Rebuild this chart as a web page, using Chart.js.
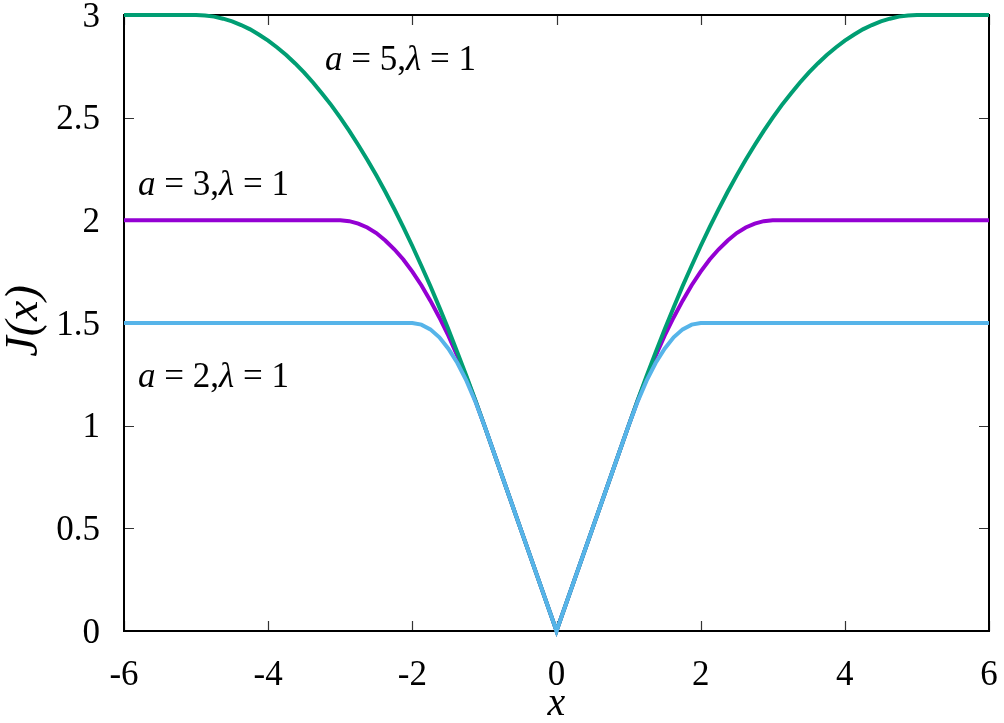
<!DOCTYPE html>
<html><head><meta charset="utf-8">
<script src="https://cdn.jsdelivr.net/npm/chart.js@4.4.1/dist/chart.umd.min.js"></script>
<style>
html,body{margin:0;padding:0;background:#fff;}
#wrap{position:relative;width:1004px;height:723px;overflow:hidden;}
#c{position:absolute;left:0;top:0;}
#ov{position:absolute;left:0;top:0;width:1004px;height:723px;pointer-events:none;}
#ov div{position:absolute;font-family:'Liberation Serif', serif;color:#000;white-space:pre;}
</style>
</head><body>
<div id="wrap"><canvas id="c" width="1004" height="723"></canvas><div id="ov"></div></div>
<script>
const xValues = [-6,-5.75,-5.5,-5.25,-5,-4.875,-4.75,-4.625,-4.5,-4.375,-4.25,-4.125,-4,-3.875,-3.75,-3.625,-3.5,-3.375,-3.25,-3.125,-3,-2.875,-2.75,-2.625,-2.5,-2.375,-2.25,-2.125,-2,-1.875,-1.75,-1.625,-1.5,-1.375,-1.25,-1.125,-1,-0.75,-0.5,-0.25,
  0,
  0.25,0.5,0.75,1,1.125,1.25,1.375,1.5,1.625,1.75,1.875,2,2.125,2.25,2.375,2.5,2.625,2.75,2.875,3,3.125,3.25,3.375,3.5,3.625,3.75,3.875,4,4.125,4.25,4.375,4.5,4.625,4.75,4.875,5,5.25,5.5,5.75,6];
const jA5 = [3,3,3,3,3,2.998,2.992,2.982,2.969,2.951,2.930,2.904,2.875,2.842,2.805,2.764,2.719,2.670,2.617,2.561,2.5,2.436,2.367,2.295,2.219,2.139,2.055,1.967,1.875,1.779,1.680,1.576,1.469,1.357,1.242,1.123,1,0.75,0.5,0.25,
  0,
  0.25,0.5,0.75,1,1.123,1.242,1.357,1.469,1.576,1.680,1.779,1.875,1.967,2.055,2.139,2.219,2.295,2.367,2.436,2.5,2.561,2.617,2.670,2.719,2.764,2.805,2.842,2.875,2.904,2.930,2.951,2.969,2.982,2.992,2.998,3,3,3,3,3];
const jA3 = [2,2,2,2,2,2,2,2,2,2,2,2,2,2,2,2,2,2,2,2,2,1.996,1.984,1.965,1.938,1.902,1.859,1.809,1.75,1.684,1.609,1.527,1.438,1.340,1.234,1.121,1,0.75,0.5,0.25,
  0,
  0.25,0.5,0.75,1,1.121,1.234,1.340,1.438,1.527,1.609,1.684,1.75,1.809,1.859,1.902,1.938,1.965,1.984,1.996,2,2,2,2,2,2,2,2,2,2,2,2,2,2,2,2,2,2,2,2,2];
const jA2 = [1.5,1.5,1.5,1.5,1.5,1.5,1.5,1.5,1.5,1.5,1.5,1.5,1.5,1.5,1.5,1.5,1.5,1.5,1.5,1.5,1.5,1.5,1.5,1.5,1.5,1.5,1.5,1.5,1.5,1.492,1.469,1.430,1.375,1.305,1.219,1.117,1,0.75,0.5,0.25,
  0,
  0.25,0.5,0.75,1,1.117,1.219,1.305,1.375,1.430,1.469,1.492,1.5,1.5,1.5,1.5,1.5,1.5,1.5,1.5,1.5,1.5,1.5,1.5,1.5,1.5,1.5,1.5,1.5,1.5,1.5,1.5,1.5,1.5,1.5,1.5,1.5,1.5,1.5,1.5,1.5];
const xTickValues = [-6,-4,-2,0,2,4,6];
const xTickLabels = ['-6','-4','-2','0','2','4','6'];
const yTickValues = [0,0.5,1,1.5,2,2.5,3];
const yTickLabels = ['0','0.5','1','1.5','2','2.5','3'];
const xTitle = 'x';
const yTitle = 'J(x)';
const aValues = ['5','3','2'];
const lambdaValues = ['1','1','1'];
const labelAnchorX = [-3.21,-5.806,-5.806];
const labelAnchorY = [2.729,2.123,1.188];

const TICK_SIZE = 35, LABEL_SIZE = 35, XT_SIZE = 40, YT_SIZE = 46;
const ov = document.getElementById('ov');

function addText(html, css) {
  const d = document.createElement('div');
  d.innerHTML = html;
  Object.assign(d.style, css);
  ov.appendChild(d);
  return d;
}

const frame = {
  id: 'frame',
  beforeDatasetsDraw(chart) {
    const {ctx, chartArea: a, scales} = chart;
    ctx.save();
    ctx.strokeStyle = '#333';
    ctx.lineWidth = 1.2;
    ctx.beginPath();
    xTickValues.forEach(v => {
      const px = Math.round(scales.x.getPixelForValue(v)) + 0.5;
      ctx.moveTo(px, a.bottom); ctx.lineTo(px, a.bottom - 10);
      ctx.moveTo(px, a.top); ctx.lineTo(px, a.top + 10);
    });
    yTickValues.forEach(v => {
      const py = Math.round(scales.y.getPixelForValue(v)) + 0.5;
      ctx.moveTo(a.left, py); ctx.lineTo(a.left + 10, py);
      ctx.moveTo(a.right, py); ctx.lineTo(a.right - 10, py);
    });
    ctx.stroke();
    ctx.strokeStyle = '#000';
    ctx.lineWidth = 2;
    ctx.strokeRect(a.left, a.top, a.right - a.left, a.bottom - a.top);
    ctx.restore();
  },
  afterRender(chart) {
    if (ov.childElementCount) return;
    const {chartArea: a, scales} = chart;
    // y tick labels, right-aligned 24px left of the axis, centred on the tick
    yTickValues.forEach((v, i) => {
      addText(yTickLabels[i], {
        right: (chart.width - (a.left - 24)) + 'px',
        top: (scales.y.getPixelForValue(v) - TICK_SIZE / 2) + 'px',
        fontSize: TICK_SIZE + 'px', lineHeight: TICK_SIZE + 'px'
      });
    });
    // x tick labels, centred under the tick
    xTickValues.forEach((v, i) => {
      addText(xTickLabels[i], {
        left: scales.x.getPixelForValue(v) + 'px',
        top: (a.bottom + 42 - TICK_SIZE / 2) + 'px',
        transform: 'translateX(-50%)',
        fontSize: TICK_SIZE + 'px', lineHeight: TICK_SIZE + 'px'
      });
    });
    // axis titles
    addText('<i>' + xTitle + '</i>', {
      left: ((a.left + a.right) / 2) + 'px',
      top: (702 - XT_SIZE / 2) + 'px',
      transform: 'translateX(-50%)',
      fontSize: XT_SIZE + 'px', lineHeight: XT_SIZE + 'px'
    });
    addText('<i>' + yTitle + '</i>', {
      left: '22px',
      top: ((a.top + a.bottom) / 2 - 2) + 'px',
      transform: 'translate(-50%,-50%) rotate(-90deg)',
      fontSize: YT_SIZE + 'px', lineHeight: YT_SIZE + 'px'
    });
    // curve labels, anchored at their baseline
    aValues.forEach((av, i) => {
      addText('<i>a</i> = ' + av + ',<i>\u03bb</i> = ' + lambdaValues[i], {
        left: scales.x.getPixelForValue(labelAnchorX[i]) + 'px',
        top: (scales.y.getPixelForValue(labelAnchorY[i]) - 0.8375 * LABEL_SIZE) + 'px',
        fontSize: LABEL_SIZE + 'px', lineHeight: LABEL_SIZE + 'px'
      });
    });
  }
};

const ds = (data, color) => ({
  data: xValues.map((x, i) => ({x, y: data[i]})),
  borderColor: color,
  borderWidth: 4,
  pointRadius: 0,
  tension: 0,
  fill: false,
  clip: false,
  borderJoinStyle: 'miter'
});

new Chart(document.getElementById('c'), {
  type: 'line',
  data: {
    datasets: [
      ds(jA2, '#56b4e9'),
      ds(jA5, '#009e73'),
      ds(jA3, '#9400d3')
    ]
  },
  plugins: [frame],
  options: {
    responsive: false,
    animation: false,
    layout: {padding: {top: 15, right: 15, left: 0, bottom: 0}},
    plugins: {legend: {display: false}, tooltip: {enabled: false}},
    scales: {
      x: {
        type: 'linear', min: -6, max: 6,
        afterBuildTicks: s => { s.ticks = xTickValues.map(v => ({value: v})); },
        afterFit: s => { s.height = 92; s.paddingLeft = 0; s.paddingRight = 0; },
        grid: {display: false, drawTicks: false},
        border: {display: false},
        ticks: {display: false},
        title: {display: false}
      },
      y: {
        type: 'linear', min: 0, max: 3,
        afterBuildTicks: s => { s.ticks = yTickValues.map(v => ({value: v})); },
        afterFit: s => { s.width = 124; s.paddingTop = 0; s.paddingBottom = 0; },
        grid: {display: false, drawTicks: false},
        border: {display: false},
        ticks: {display: false},
        title: {display: false}
      }
    }
  }
});
</script>
</body></html>
